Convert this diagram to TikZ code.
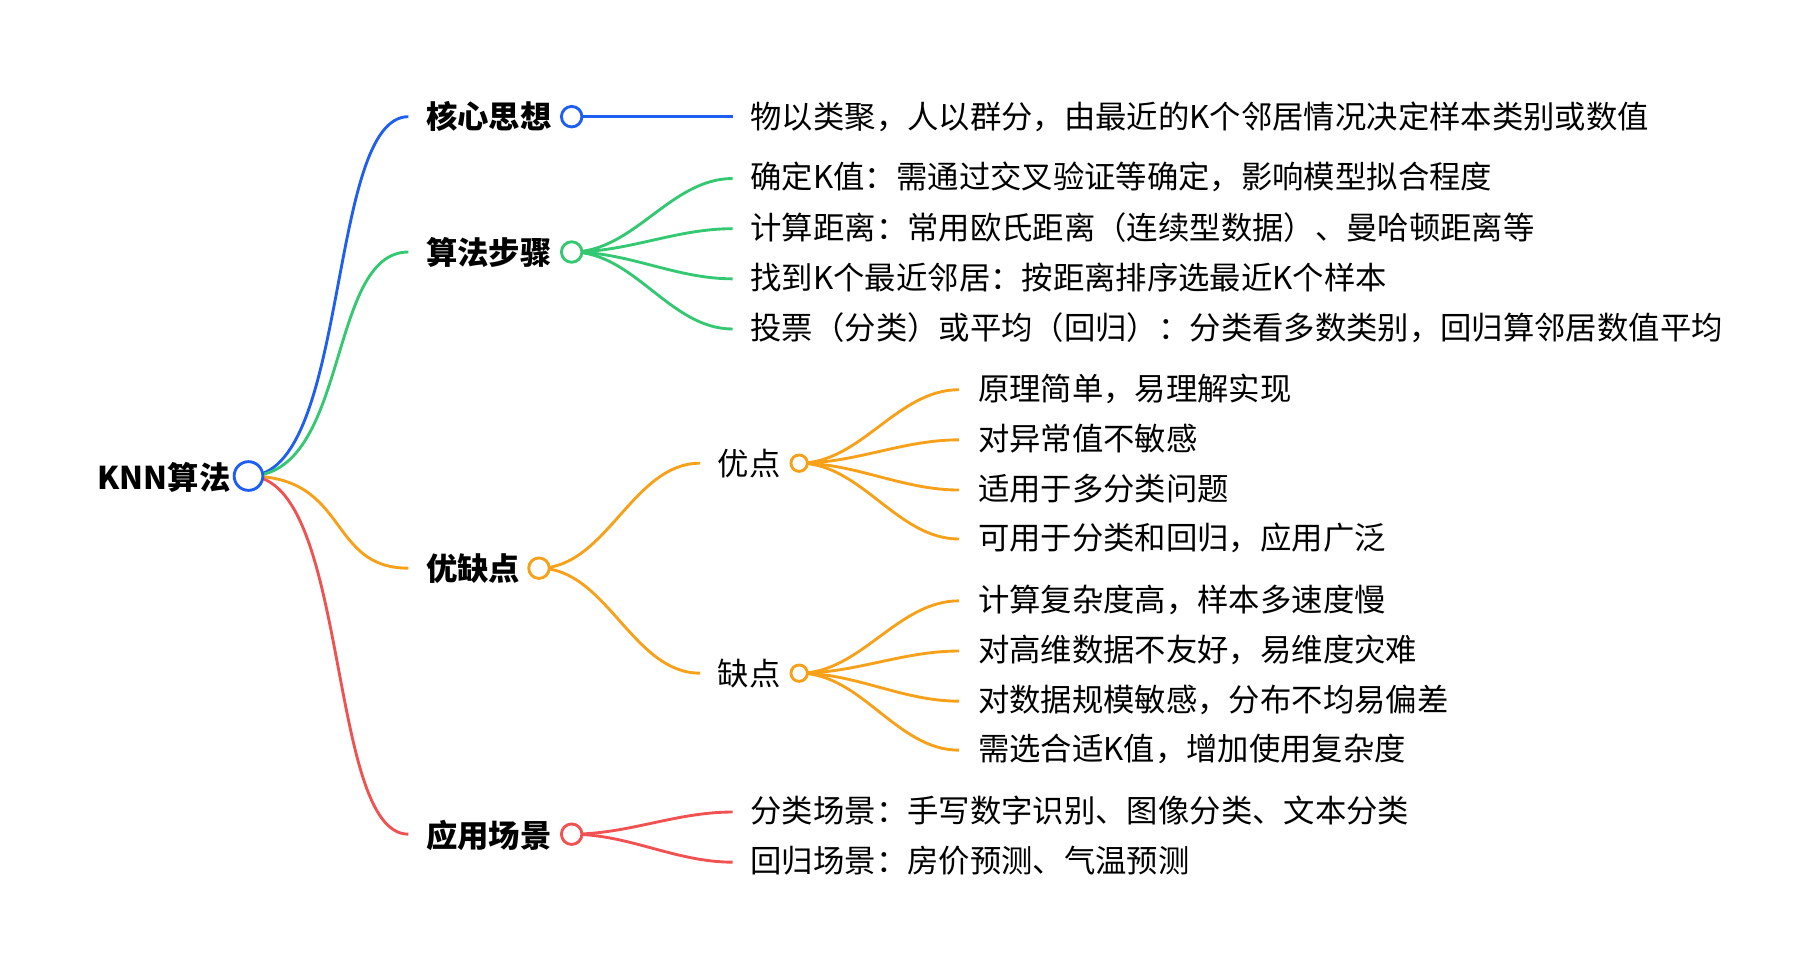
\documentclass[tikz,border=0pt]{standalone}
\usepackage{fontspec}
\newfontfamily\cjk{Noto Sans CJK SC}
\definecolor{cb}{HTML}{1E5EF0}
\definecolor{cg}{HTML}{34C873}
\definecolor{co}{HTML}{F7A11A}
\definecolor{cr}{HTML}{F05252}
\begin{document}
\begin{tikzpicture}[x=0.02cm,y=-0.02cm,
  every node/.style={font=\cjk\fontsize{15.3}{17}\selectfont,inner sep=0pt,text=black},
  lvl/.style={font=\cjk\bfseries\fontsize{15.3}{17}\selectfont},
  dot/.style={circle,draw=#1,line width=1.4pt,fill=white,minimum size=14pt},
  sdot/.style={circle,draw=#1,line width=1.4pt,fill=white,minimum size=10pt},
  ln/.style={draw=#1,line width=1.4pt}]
\useasboundingbox (0,0) rectangle (1560,833);
\newcommand\cv[3]{\draw[ln=#1] (#2) to[out=0,in=180,looseness=0.9] (#3);}
% root
\node[lvl,anchor=east] (root) at (198,409) {KNN算法};
% level 1
\node[lvl,anchor=west] (a) at (365,100) {核心思想};
\node[lvl,anchor=west] (b) at (365,216) {算法步骤};
\node[lvl,anchor=west] (c) at (365,487) {优缺点};
\node[lvl,anchor=west] (d) at (365,716) {应用场景};
\coordinate (ae) at (350,100);
\coordinate (be) at (350,216);
\coordinate (ce) at (350,487);
\coordinate (de) at (350,715);
\coordinate (r0) at (213,408);
\draw[ln=cb] (r0) .. controls (300,408) and (280,100) .. (ae);
\draw[ln=cg] (r0) .. controls (300,408) and (280,216) .. (be);
\draw[ln=co] (r0) .. controls (300,408) and (280,487) .. (ce);
\draw[ln=cr] (r0) .. controls (300,408) and (280,715) .. (de);
% a
\coordinate (a0) at (490,100);
\node[anchor=west] (a1) at (643,100) {物以类聚，人以群分，由最近的K个邻居情况决定样本类别或数值};
\draw[ln=cb] (a0) -- (628,100) coordinate (a1e);
% b
\coordinate (b0) at (490,216);
\foreach \y/\t [count=\i] in {153/{确定K值：需通过交叉验证等确定，影响模型拟合程度},196/{计算距离：常用欧氏距离（连续型数据）、曼哈顿距离等},239/{找到K个最近邻居：按距离排序选最近K个样本},282/{投票（分类）或平均（回归）：分类看多数类别，回归算邻居数值平均}}{
  \node[anchor=west] (b\i) at (643,\y-1) {\t};
  \coordinate (b\i e) at (628,\y);
  \cv{cg}{b0}{b\i e}
}
% c
\coordinate (c0) at (462,487);
\node[anchor=west] (p) at (615,397) {优点};
\node[anchor=west] (q) at (615,577) {缺点};
\coordinate (pe) at (600,397);
\coordinate (qe) at (600,577);
\cv{co}{c0}{pe}
\cv{co}{c0}{qe}
\coordinate (p0) at (685,397);
\coordinate (q0) at (685,577);
\foreach \y/\t [count=\i] in {334/{原理简单，易理解实现},377/{对异常值不敏感},420/{适用于多分类问题},462/{可用于分类和回归，应用广泛}}{
  \node[anchor=west] (p\i) at (838,\y-1) {\t};
  \coordinate (p\i e) at (822,\y);
  \cv{co}{p0}{p\i e}
}
\foreach \y/\t [count=\i] in {515/{计算复杂度高，样本多速度慢},558/{对高维数据不友好，易维度灾难},601/{对数据规模敏感，分布不均易偏差},643/{需选合适K值，增加使用复杂度}}{
  \node[anchor=west] (q\i) at (838,\y-1) {\t};
  \coordinate (q\i e) at (822,\y);
  \cv{co}{q0}{q\i e}
}
% d
\coordinate (d0) at (490,715);
\foreach \y/\t [count=\i] in {696/{分类场景：手写数字识别、图像分类、文本分类},739/{回归场景：房价预测、气温预测}}{
  \node[anchor=west] (d\i) at (643,\y-1) {\t};
  \coordinate (d\i e) at (628,\y);
  \cv{cr}{d0}{d\i e}
}
% dots
\node[dot=cb] at (r0) {};
\node[sdot=cb] at (a0) {};
\node[sdot=cg] at (b0) {};
\node[sdot=co] at (c0) {};
\node[sdot=cr] at (d0) {};
\node[sdot=co,minimum size=8pt] at (p0) {};
\node[sdot=co,minimum size=8pt] at (q0) {};
\end{tikzpicture}
\end{document}
